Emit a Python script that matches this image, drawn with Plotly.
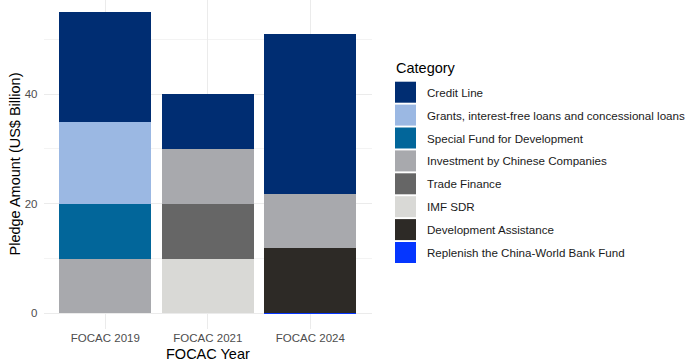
import plotly.graph_objects as go

W, H = 700, 362

years = ["FOCAC 2019", "FOCAC 2021", "FOCAC 2024"]
categories = [
    "Credit Line",
    "Grants, interest-free loans and concessional loans",
    "Special Fund for Development",
    "Investment by Chinese Companies",
    "Trade Finance",
    "IMF SDR",
    "Development Assistance",
    "Replenish the China-World Bank Fund",
]
colors = ["#002D72", "#9BB8E3", "#02669A", "#A8A9AD", "#666666", "#D9D9D6", "#2D2A26", "#0536FF"]

# values per category for [2019, 2021, 2024]
credit_line = [20, 10, 29.2]
grants = [15, 0, 0]
special_fund = [10, 0, 0]
investment = [10, 10, 10]
trade_finance = [0, 10, 0]
imf_sdr = [0, 10, 0]
dev_assistance = [0, 0, 11.8]
replenish = [0, 0, 0.05]

values = [credit_line, grants, special_fund, investment, trade_finance,
          imf_sdr, dev_assistance, replenish]

fig = go.Figure()
# stack bottom-up: last category at bottom
for name, vals, col in reversed(list(zip(categories, values, colors))):
    fig.add_trace(go.Bar(x=years, y=vals, name=name, marker=dict(color=col, line=dict(width=0)),
                         width=0.9, showlegend=False))

px0, px1 = 43.8, 371.8
py_top, py_bot = 0, 329

font = "Liberation Sans, Arial, sans-serif"
fig.update_layout(
    width=W, height=H, barmode="stack", bargap=0.1,
    margin=dict(l=0, r=0, t=0, b=0),
    paper_bgcolor="white", plot_bgcolor="white",
    font=dict(family=font, color="#000000"),
    xaxis=dict(domain=[px0 / W, px1 / W], range=[-0.6, 2.6], automargin=False,
               showgrid=True, gridcolor="#EBEBEB", gridwidth=1, zeroline=False,
               showline=False, ticks="", ticklen=0,
               tickfont=dict(size=11.5, color="#4D4D4D", family=font)),
    yaxis=dict(domain=[1 - py_bot / H, 1 - py_top / H], range=[-2.87, 57.2], automargin=False,
               tickvals=[0, 20, 40], showgrid=True, gridcolor="#EBEBEB", gridwidth=1,
               minor=dict(tickvals=[10, 30, 50], showgrid=True, gridcolor="#F3F3F3", gridwidth=0.6),
               zeroline=False, showline=False, ticks="outside", ticklen=3,
               tickcolor="rgba(0,0,0,0)",
               tickfont=dict(size=11.5, color="#4D4D4D", family=font)),
)

ann = []
ann.append(dict(text="FOCAC Year", x=(px0 + px1) / 2 / W, y=1 - 353.5 / H, xref="paper", yref="paper",
                showarrow=False, font=dict(size=14.5, color="#000"), xanchor="center", yanchor="middle"))
ann.append(dict(text="Pledge Amount (US$ Billion)", x=14 / W, y=1 - 164.5 / H, xref="paper", yref="paper",
                showarrow=False, textangle=-90, font=dict(size=14.5, color="#000"),
                xanchor="center", yanchor="middle"))
ann.append(dict(text="Category", x=394 / W, y=1 - 68 / H, xref="paper", yref="paper",
                showarrow=False, font=dict(size=14.5, color="#000"), xanchor="left", yanchor="middle"))

shapes = []
key_top0, step, key_h = 81.7, 22.9, 21
for i, (name, col) in enumerate(zip(categories, colors)):
    t = key_top0 + i * step
    shapes.append(dict(type="rect", xref="paper", yref="paper",
                       x0=395 / W, x1=416 / W, y0=1 - (t + key_h) / H, y1=1 - t / H,
                       fillcolor=col, line=dict(width=0), layer="above"))
    ann.append(dict(text=name, x=425 / W, y=1 - (t + key_h / 2) / H, xref="paper", yref="paper",
                    showarrow=False, font=dict(size=11.6, color="#1A1A1A"),
                    xanchor="left", yanchor="middle"))

fig.update_layout(annotations=ann, shapes=shapes)
fig.write_html("out.html")
